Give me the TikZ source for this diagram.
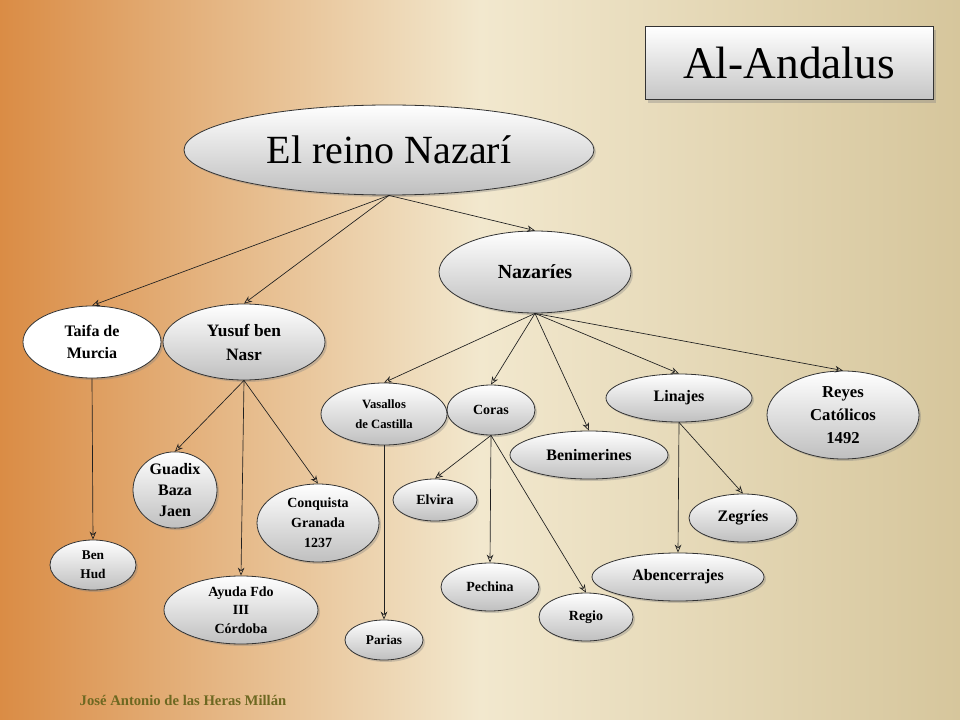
\documentclass[tikz,border=0pt]{standalone}
\usepackage{fontspec}
\setmainfont{Liberation Serif}
\usetikzlibrary{shapes.geometric,shadows,arrows.meta}
\definecolor{bgL}{HTML}{DA8C45}
\definecolor{bgM}{HTML}{F2E8CE}
\definecolor{bgR}{HTML}{D6C69C}
\tikzset{
 ov/.style 2 args={ellipse, minimum width=#1*0.75pt, minimum height=#2*0.75pt, inner sep=0pt,
   top color=white, bottom color=gray!50, draw=gray!40!black, line width=0.6pt,
   drop shadow={opacity=0.35,shadow xshift=1.5pt,shadow yshift=-1.5pt}, align=center, font=\bfseries\fontsize{10.5}{14}\selectfont},
 con/.style={-{Stealth[length=6pt,width=5pt,open]}, draw=gray!25!black, line width=0.5pt},
}
\begin{document}
\begin{tikzpicture}[x=0.75pt,y=-0.75pt]
\useasboundingbox (0,0) rectangle (960,720);
\shade[left color=bgL, right color=bgR, middle color=bgM] (0,0) rectangle (960,720);
\node[draw=gray!40!black, top color=white, bottom color=gray!45, minimum width=288*0.75pt, minimum height=73*0.75pt,
  drop shadow={opacity=0.35}, font=\fontsize{34}{36}\selectfont] (title) at (789,63) {Al-Andalus};
\node[ov={410}{90}, font=\fontsize{30}{32}\selectfont] (reino) at (389,150) {El reino Nazarí};
\node[ov={192}{82}, font=\bfseries\fontsize{15}{18}\selectfont] (naz) at (535,272) {Nazaríes};
\node[ov={138}{72}, top color=white, bottom color=white, font=\bfseries\fontsize{12}{17}\selectfont] (taifa) at (92,342) {Taifa de\\Murcia};
\node[ov={162}{76}, font=\bfseries\fontsize{13}{18}\selectfont] (yusuf) at (244,342) {Yusuf ben\\Nasr};
\node[ov={126}{62}, font=\bfseries\fontsize{9.5}{15}\selectfont] (vas) at (384,414) {Vasallos\\de Castilla};
\node[ov={88}{50}] (coras) at (491,410) {Coras};
\node[ov={158}{48}, font=\bfseries\fontsize{12}{14}\selectfont] (beni) at (589,455) {Benimerines};
\node[ov={146}{48}, font=\bfseries\fontsize{12}{14}\selectfont] (lin) at (679,398) {Linajes};
\node[ov={152}{88}, font=\bfseries\fontsize{12.5}{17}\selectfont] (reyes) at (843,415) {Reyes\\Católicos\\1492};
\node[ov={84}{72}, font=\bfseries\fontsize{12}{16}\selectfont] (guad) at (175,490) {Guadix\\Baza\\Jaen};
\node[ov={122}{78}, font=\bfseries\fontsize{10.5}{15}\selectfont] (conq) at (318,523) {Conquista\\Granada\\1237};
\node[ov={84}{42}] (elv) at (435,500) {Elvira};
\node[ov={98}{48}] (pech) at (490,587) {Pechina};
\node[ov={94}{48}] (regio) at (586,617) {Regio};
\node[ov={108}{48}, font=\bfseries\fontsize{12}{14}\selectfont] (zeg) at (743,518) {Zegríes};
\node[ov={172}{48}, font=\bfseries\fontsize{12}{14}\selectfont] (aben) at (678,577) {Abencerrajes};
\node[ov={86}{50}, font=\bfseries\fontsize{10}{14}\selectfont] (ben) at (93,565) {Ben\\Hud};
\node[ov={154}{68}, font=\bfseries\fontsize{10.5}{14}\selectfont] (ayuda) at (241,610) {Ayuda Fdo\\III\\Córdoba};
\node[ov={78}{40}, font=\bfseries\fontsize{10}{14}\selectfont] (parias) at (384,640) {Parias};
\node[font=\bfseries\fontsize{11}{13}\selectfont, text=olive!70!black] (firma) at (183,700) {José Antonio de las  Heras Millán};
\draw[con] (reino.south) -- (taifa.north);
\draw[con] (reino.south) -- (yusuf.north);
\draw[con] (reino.south) -- (naz.north);
\draw[con] (naz.south) -- (vas.north);
\draw[con] (naz.south) -- (coras.north);
\draw[con] (naz.south) -- (beni.north);
\draw[con] (naz.south) -- (lin.north);
\draw[con] (naz.south) -- (reyes.north);
\draw[con] (taifa.south) -- (ben.north);
\draw[con] (yusuf.south) -- (guad.north);
\draw[con] (yusuf.south) -- (ayuda.north);
\draw[con] (yusuf.south) -- (conq.north);
\draw[con] (vas.south) -- (parias.north);
\draw[con] (coras.south) -- (elv.north);
\draw[con] (coras.south) -- (pech.north);
\draw[con] (coras.south) -- (regio.north);
\draw[con] (lin.south) -- (zeg.north);
\draw[con] (lin.south) -- (aben.north);
\end{tikzpicture}
\end{document}
